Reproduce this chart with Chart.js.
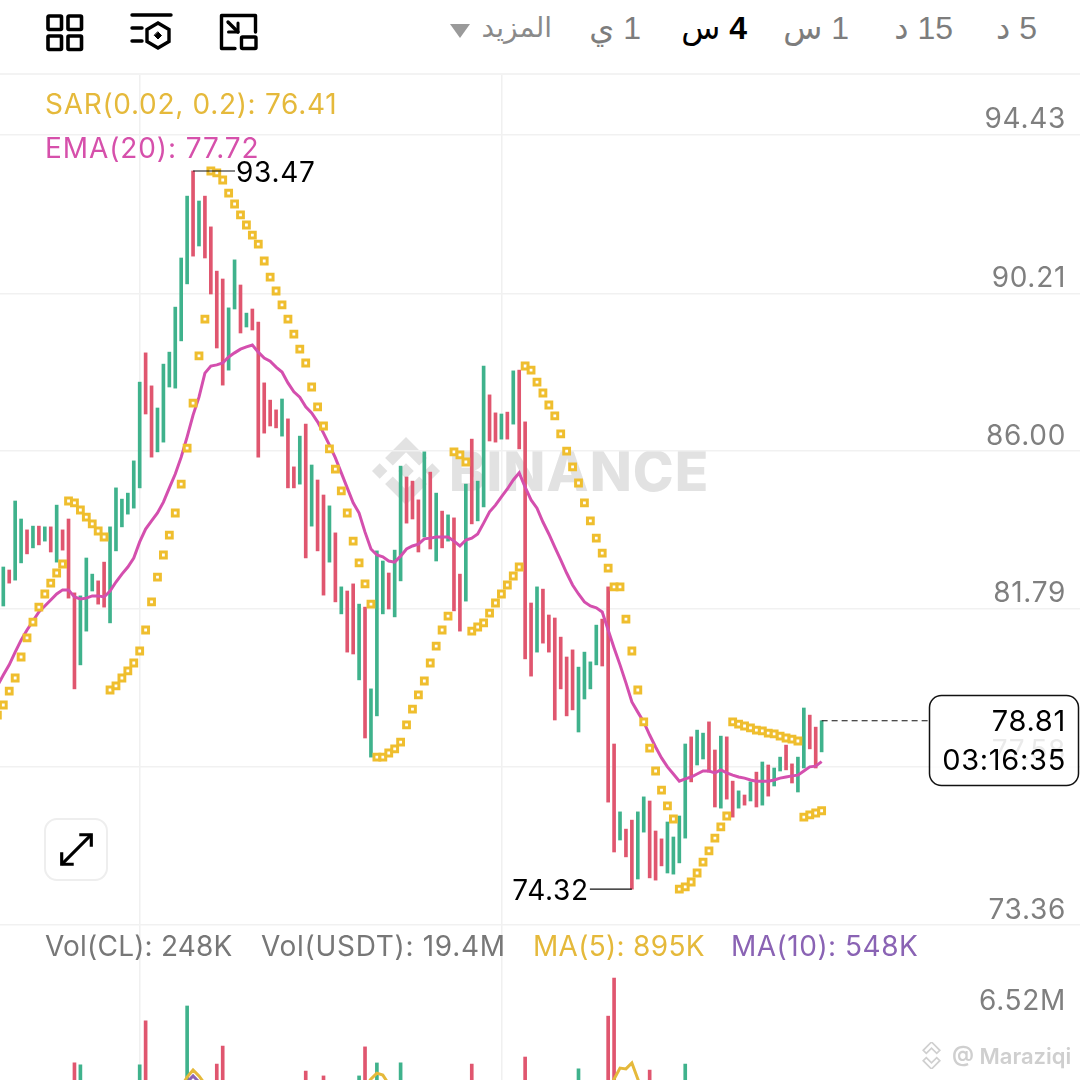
<!DOCTYPE html>
<html lang="ar">
<head>
<meta charset="utf-8">
<title>Chart</title>
<script src="https://cdn.jsdelivr.net/npm/chart.js@4"></script>
<style>
    html, body { margin: 0; padding: 0; background: #fff; }
    #page { position: relative; width: 1080px; height: 1080px; overflow: hidden; background: #fff; font-family: Inter, sans-serif; }
    #chart { position: absolute; left: 0; top: 0; z-index: 2; }
    .header { position: absolute; left: 0; top: 0; width: 1080px; height: 73px; background: #fff; border-bottom: 2px solid #f3f3f3; z-index: 3; }
    .tf { position: absolute; top: 7px; direction: rtl; font-family: "Liberation Sans", "DejaVu Sans", sans-serif; font-size: 32px; line-height: 42px; color: #7d7d7d; white-space: nowrap; }
    .tf b { color: #000; }
    .tf.on { color: #000; }
    .leg { position: absolute; font-size: 28px; letter-spacing: 0.7px; line-height: 32px; white-space: nowrap; z-index: 3; }
    .mark { position: absolute; fill: #e2e2e2; z-index: 1; }
    .wm { position: absolute; left: 449px; top: 438px; font-size: 55px; line-height: 66px; font-weight: 800; color: #e2e2e2; letter-spacing: 1px; z-index: 1; }
    .credit { position: absolute; left: 952px; top: 1042px; font-size: 22px; line-height: 28px; font-weight: 600; color: #cfcfcf; z-index: 3; white-space: nowrap; }
    .expand { position: absolute; left: 44px; top: 818px; width: 60px; height: 59px; border: 2px solid #eeeeee; border-radius: 13px; background: #fff; z-index: 3; }
    svg { position: absolute; }
</style>
</head>
<body>
<div id="page">
    <svg class="mark" style="left:372px;top:437px" width="68" height="68" viewBox="0 0 126.61 126.61">
        <path d="M38.73 53.2l24.59-24.58 24.6 24.6 14.3-14.31L63.32 0 24.43 38.9z"/>
        <path d="M0 63.31l14.3-14.31 14.31 14.31-14.31 14.3z"/>
        <path d="M38.73 73.41l24.59 24.59 24.6-24.6 14.31 14.29-38.9 38.91-38.91-38.88z"/>
        <path d="M98 63.31l14.3-14.31 14.31 14.3-14.31 14.32z"/>
        <path d="M77.83 63.3L63.32 48.78 52.59 59.51l-1.24 1.23-2.54 2.54 14.51 14.5 14.51-14.47z"/>
    </svg>
    <div class="wm">BINANCE</div>

    <canvas id="chart" width="1080" height="1080"></canvas>

    <div class="header">
        <svg style="left:46px;top:14px" width="38" height="38" viewBox="0 0 38 38" fill="none" stroke="#000" stroke-width="3.6">
            <rect x="2" y="2" width="13.5" height="13.5" rx="1"/><rect x="22" y="2" width="13.5" height="13.5" rx="1"/>
            <rect x="2" y="22" width="13.5" height="13.5" rx="1"/><rect x="22" y="22" width="13.5" height="13.5" rx="1"/>
        </svg>
        <svg style="left:130px;top:13px" width="44" height="38" viewBox="0 0 44 38" fill="none" stroke="#000" stroke-width="3.4" stroke-linecap="round">
            <path d="M2 2H41"/><path d="M2 15H12"/><path d="M2 28H12"/>
            <path d="M28 10L39 16.5V28.5L28 35L17 28.5V16.5Z"/>
            <path d="M28 19L31.5 22.5L28 26L24.5 22.5Z" fill="#000" stroke-width="1"/>
        </svg>
        <svg style="left:219px;top:13px" width="40" height="38" viewBox="0 0 40 38" fill="none" stroke="#000" stroke-width="3.4" stroke-linecap="round" stroke-linejoin="round">
            <path d="M16 35.5H2.5V2.5H36.5V19"/>
            <rect x="22.5" y="24" width="14.5" height="11.5" rx="1"/>
            <path d="M9 9L19 19"/><path d="M9.5 19H19V10" stroke-width="3"/>
        </svg>
        <svg style="left:450px;top:24px" width="20" height="14" viewBox="0 0 20 14"><path d="M0 0H20L10 14Z" fill="#9a9a9a"/></svg>
        <div class="tf" style="right:528px;font-size:28px;color:#8a8a8a">المزيد</div>
        <div class="tf" style="right:439px">1 ي</div>
        <div class="tf on" style="right:333px"><b>4</b> س</div>
        <div class="tf" style="right:231px">1 س</div>
        <div class="tf" style="right:127px">15 د</div>
        <div class="tf" style="right:43px">5 د</div>
    </div>

    <div class="leg" style="left:45px;top:88px;color:#e5b93b">SAR(0.02, 0.2): 76.41</div>
    <div class="leg" style="left:45px;top:132px;color:#d650ab;letter-spacing:0.9px">EMA(20): 77.72</div>
    <div class="leg" style="left:45px;top:930px;color:#777;letter-spacing:0.2px">Vol(CL): 248K</div>
    <div class="leg" style="left:261px;top:930px;color:#777">Vol(USDT): 19.4M</div>
    <div class="leg" style="left:533px;top:930px;color:#e5b93b;letter-spacing:0.3px">MA(5): 895K</div>
    <div class="leg" style="left:731px;top:930px;color:#8a63b4;letter-spacing:0.5px">MA(10): 548K</div>

    <div class="expand">
        <svg style="left:12px;top:11px" width="37" height="37" viewBox="0 0 40 40" fill="none" stroke="#000" stroke-width="3.4">
            <path d="M4 36L36 4"/><path d="M4 23V36H17"/><path d="M23 4H36V17"/>
        </svg>
    </div>

    <svg class="mark" style="left:918px;top:1042px;fill:none;stroke:#d0d0d0;stroke-width:8;z-index:3" width="27" height="27" viewBox="0 0 126.61 126.61">
        <path d="M38.73 53.2l24.59-24.58 24.6 24.6 14.3-14.31L63.32 0 24.43 38.9z"/>
        <path d="M38.73 73.41l24.59 24.59 24.6-24.6 14.31 14.29-38.9 38.91-38.91-38.88z"/>
    </svg>
    <div class="credit">@ Maraziqi</div>
</div>

<script>
const priceTicks = [94.43, 90.21, 86.00, 81.79, 77.58, 73.36];
const volumeTicks = [6.52];
const gridCandles = [23.05, 84.1];

const highs = [
    82.91, 82.83, 84.67, 84.19, 83.90, 84.00, 84.00, 83.98, 83.98, 84.56,
    83.90, 84.19, 82.22, 82.14, 83.15, 82.72, 82.54, 83.04, 83.98, 85.02,
    84.72, 84.88, 85.74, 87.84, 88.62, 87.74, 87.15, 88.32, 88.64, 89.84,
    91.15, 92.80, 93.47, 92.67, 92.80, 91.98, 90.80, 90.59, 89.82, 91.10,
    90.43, 89.68, 89.79, 89.44, 87.82, 87.36, 87.10, 87.39, 86.86, 85.58,
    86.40, 86.72, 85.63, 85.23, 84.83, 84.54, 83.82, 82.38, 82.27, 82.46,
    81.92, 81.84, 79.66, 83.34, 83.07, 82.75, 83.36, 85.60, 85.31, 85.20,
    84.70, 85.98, 85.44, 84.88, 84.40, 84.30, 84.22, 82.72, 85.12, 86.32,
    85.20, 88.27, 87.50, 87.02, 86.99, 87.04, 88.14, 88.16, 86.78, 81.95,
    82.38, 82.32, 81.63, 81.55, 81.04, 80.51, 80.70, 80.24, 80.64, 80.38,
    81.36, 81.52, 82.38, 78.19, 76.38, 75.92, 76.16, 76.38, 76.78, 76.67,
    75.87, 75.66, 76.11, 75.71, 76.27, 78.19, 78.38, 78.56, 78.48, 78.78,
    78.03, 78.40, 78.38, 77.20, 76.94, 76.83, 77.18, 77.44, 77.71, 77.63,
    77.55, 77.84, 78.16, 77.66, 77.84, 79.15, 78.96, 78.64, 78.81
];
const lows = [
    81.87, 82.48, 82.56, 83.02, 83.26, 83.42, 83.50, 83.60, 83.31, 83.04,
    83.36, 82.08, 79.66, 80.30, 81.20, 82.27, 81.92, 81.84, 81.42, 83.34,
    83.98, 84.32, 84.48, 85.02, 86.99, 85.84, 85.98, 86.24, 87.71, 87.68,
    88.94, 90.46, 91.20, 91.47, 91.15, 90.19, 88.75, 87.76, 88.16, 89.79,
    89.15, 89.31, 89.23, 85.84, 86.48, 86.67, 86.62, 86.40, 85.02, 85.02,
    85.12, 83.15, 84.00, 83.34, 82.16, 83.04, 81.98, 81.66, 80.64, 80.59,
    79.90, 78.35, 77.84, 78.94, 81.66, 81.79, 81.58, 82.54, 84.08, 84.19,
    83.31, 83.71, 83.39, 83.07, 83.42, 83.60, 81.74, 81.20, 82.00, 84.06,
    84.14, 84.51, 86.27, 86.24, 86.32, 86.32, 86.72, 86.06, 80.46, 80.00,
    80.64, 80.88, 80.64, 78.83, 79.66, 78.94, 79.10, 78.51, 79.39, 79.66,
    80.30, 80.27, 76.64, 75.31, 75.63, 75.18, 74.32, 74.59, 75.84, 74.62,
    74.56, 74.94, 74.75, 74.72, 75.02, 75.68, 77.18, 77.63, 77.79, 77.44,
    76.51, 76.48, 76.72, 76.24, 76.48, 76.56, 76.67, 76.51, 76.56, 76.80,
    77.07, 77.47, 77.50, 77.15, 76.91, 77.55, 78.06, 77.55, 77.98
];
// 1 = green candle, 0 = red candle
const rising = [
    1, 0, 1, 1, 0, 1, 0, 1, 0, 1,
    0, 0, 0, 1, 1, 1, 0, 0, 1, 1,
    1, 1, 1, 1, 0, 0, 1, 1, 1, 1,
    1, 1, 0, 1, 0, 0, 0, 0, 1, 1,
    0, 1, 0, 0, 0, 0, 0, 1, 0, 0,
    1, 0, 1, 0, 0, 1, 0, 1, 0, 0,
    1, 0, 1, 1, 1, 0, 1, 1, 0, 0,
    0, 1, 0, 1, 0, 1, 0, 0, 1, 0,
    1, 1, 0, 0, 1, 0, 1, 0, 0, 0,
    1, 0, 0, 0, 0, 0, 0, 1, 1, 1,
    1, 0, 0, 0, 1, 0, 0, 1, 1, 0,
    0, 0, 1, 1, 1, 1, 0, 1, 1, 0,
    0, 1, 0, 0, 1, 0, 1, 0, 1, 0,
    1, 1, 0, 0, 1, 1, 0, 0, 1
];
// first value of each list belongs to the candle just left of the picture
const sarValues = [
    78.96, 79.23, 79.60, 79.95, 80.51, 81.02, 81.44, 81.84, 82.19, 82.48,
    82.75, 82.99, 84.67, 84.62, 84.43, 84.24, 84.06, 83.87, 83.71, 79.63,
    79.74, 79.95, 80.14, 80.35, 80.67, 81.23, 81.98, 82.64, 83.23, 83.76,
    84.35, 85.12, 86.08, 87.28, 88.54, 89.52, 93.47, 93.42, 93.23, 92.88,
    92.59, 92.30, 92.03, 91.76, 91.52, 91.07, 90.64, 90.27, 89.90, 89.52,
    89.12, 88.72, 88.35, 87.71, 87.18, 86.67, 86.06, 85.52, 84.94, 84.35,
    83.60, 83.02, 82.46, 81.92, 77.84, 77.84, 77.95, 78.06, 78.24, 78.70,
    79.12, 79.50, 79.87, 80.35, 80.80, 81.23, 81.60, 85.98, 85.90, 85.71,
    81.20, 81.31, 81.42, 81.68, 81.95, 82.19, 82.43, 82.67, 82.91, 88.27,
    88.16, 87.84, 87.55, 87.23, 86.94, 86.46, 86.00, 85.58, 85.15, 84.62,
    84.14, 83.68, 83.28, 82.88, 82.38, 82.38, 81.52, 80.67, 79.63, 78.78,
    78.08, 77.47, 76.96, 76.54, 76.19, 74.32, 74.38, 74.51, 74.75, 75.04,
    75.34, 75.68, 75.98, 76.27, 78.78, 78.72, 78.67, 78.62, 78.56, 78.54,
    78.48, 78.46, 78.40, 78.35, 78.32, 78.27, 76.24, 76.30, 76.35, 76.41
];
const emaValues = [
    79.74, 80.03, 80.30, 80.64, 80.96, 81.23, 81.47, 81.71, 81.87, 82.03,
    82.19, 82.30, 82.30, 82.11, 82.06, 82.08, 82.14, 82.14, 82.11, 82.27,
    82.51, 82.72, 82.91, 83.15, 83.58, 83.92, 84.14, 84.35, 84.64, 85.02,
    85.39, 85.84, 86.38, 86.96, 87.44, 88.08, 88.27, 88.30, 88.35, 88.51,
    88.62, 88.72, 88.78, 88.83, 88.64, 88.48, 88.40, 88.24, 88.11, 87.82,
    87.58, 87.44, 87.18, 87.02, 86.78, 86.48, 86.16, 85.82, 85.42, 85.02,
    84.62, 84.35, 83.84, 83.39, 83.23, 83.18, 83.07, 83.04, 83.20, 83.39,
    83.47, 83.52, 83.66, 83.68, 83.71, 83.71, 83.71, 83.60, 83.47, 83.63,
    83.68, 83.79, 84.08, 84.38, 84.56, 84.78, 84.99, 85.23, 85.42, 85.04,
    84.70, 84.48, 84.11, 83.79, 83.44, 83.10, 82.75, 82.43, 82.19, 81.98,
    81.87, 81.82, 81.71, 81.23, 80.75, 80.30, 79.82, 79.31, 79.04, 78.78,
    78.43, 78.11, 77.82, 77.58, 77.39, 77.20, 77.26, 77.31, 77.39, 77.47,
    77.47, 77.42, 77.50, 77.42, 77.36, 77.31, 77.28, 77.23, 77.20, 77.20,
    77.20, 77.23, 77.28, 77.31, 77.34, 77.36, 77.47, 77.58, 77.60, 77.72
];

// volume panel is cut by the picture: only the bars that show are listed
const volumeCandles = [12, 13, 23, 24, 31, 36, 37, 51, 54, 60, 61, 63, 67, 79, 88, 97, 102, 103, 109, 115];
const volumeValues = [4.86, 4.79, 4.79, 6.35, 6.88, 4.82, 5.46, 4.57, 4.40, 4.40, 5.43, 4.86, 4.86, 4.82, 5.07, 4.65, 6.52, 7.87, 4.61, 4.82];
const ma5Candles = [30, 31, 32, 33, 34, null, 61, 62, 63, 64, 65, null, 102, 103, 104, 105, 106, 107, 108];
const ma5Values = [4.01, 4.36, 4.61, 4.40, 4.11, null, 4.01, 4.29, 4.50, 4.43, 4.11, null, 3.72, 4.29, 4.68, 4.65, 4.86, 4.29, 3.72];
const ma10Candles = [31, 32, 33];
const ma10Values = [4.18, 4.40, 4.18];

const highPrice = 93.47;
const highCandle = 32;
const lowPrice = 74.32;
const lowCandle = 106;
const lastPrice = 78.81;
const lastCandle = 138;
const countdown = '03:16:35';

const GREEN = '#3fb28c';
const RED = '#e0566f';
const TEXT_FONT = 'Inter, sans-serif';

const candleData = highs.map((h, i) => ({ x: i, y: [lows[i], h] }));
const candleColors = rising.map(r => r ? GREEN : RED);
const sarData = sarValues.map((v, i) => ({ x: i - 1, y: v }));
const emaData = emaValues.map((v, i) => ({ x: i - 1, y: v }));
const volumeData = volumeCandles.map((c, i) => ({ x: c, y: volumeValues[i] }));
const volumeColors = volumeCandles.map(c => rising[c] ? GREEN : RED);
const ma5Data = ma5Candles.map((c, i) => ({ x: c === null ? ma5Candles[i - 1] + 0.5 : c, y: ma5Values[i] }));
const ma10Data = ma10Candles.map((c, i) => ({ x: c, y: ma10Values[i] }));

// the plot fills the whole canvas, tick labels sit inside it
function flatAxis(scale) {
    scale.paddingLeft = 0;
    scale.paddingRight = 0;
    scale.paddingTop = 0;
    scale.paddingBottom = 0;
    if (scale.isHorizontal()) {
        scale.height = 0;
    } else {
        scale.width = 0;
    }
}

// high, low and last price notes, drawn over the marks
const notesPlugin = {
    id: 'notes',
    beforeDraw(chart) {
        chart.ctx.letterSpacing = '0.7px';
    },
    afterDatasetsDraw(chart) {
        const { ctx, scales: { x, y } } = chart;
        ctx.save();
        ctx.font = '28px ' + TEXT_FONT;
        ctx.textBaseline = 'middle';
        ctx.strokeStyle = '#111';
        ctx.fillStyle = '#000';
        ctx.lineWidth = 1.2;

        const hx = x.getPixelForValue(highCandle);
        const hy = y.getPixelForValue(highPrice);
        ctx.beginPath();
        ctx.moveTo(hx, hy);
        ctx.lineTo(hx + 42, hy);
        ctx.stroke();
        ctx.textAlign = 'left';
        ctx.fillText(highPrice.toFixed(2), hx + 43, hy + 3);

        const lx = x.getPixelForValue(lowCandle);
        const ly = y.getPixelForValue(lowPrice);
        ctx.beginPath();
        ctx.moveTo(lx, ly);
        ctx.lineTo(lx - 42, ly);
        ctx.stroke();
        ctx.textAlign = 'right';
        ctx.fillText(lowPrice.toFixed(2), lx - 43, ly + 2);

        const px = x.getPixelForValue(lastCandle);
        const py = y.getPixelForValue(lastPrice);
        ctx.setLineDash([6, 4]);
        ctx.beginPath();
        ctx.moveTo(px, py);
        ctx.lineTo(929, py);
        ctx.stroke();
        ctx.setLineDash([]);

        ctx.beginPath();
        ctx.roundRect(929.5, 695.5, 149, 90, 12);
        ctx.fillStyle = 'rgba(255, 255, 255, 0.84)';
        ctx.fill();
        ctx.lineWidth = 1.5;
        ctx.stroke();

        ctx.font = '29px ' + TEXT_FONT;
        ctx.fillStyle = '#000';
        ctx.textAlign = 'right';
        ctx.fillText(lastPrice.toFixed(2), 1066, py + 2);
        ctx.fillText(countdown, 1066, py + 41);
        ctx.restore();
    }
};

new Chart(document.getElementById('chart'), {
    type: 'bar',
    plugins: [notesPlugin],
    data: {
        datasets: [
            {
                type: 'line',
                label: 'SAR',
                data: sarData,
                yAxisID: 'y',
                order: 1,
                showLine: false,
                pointStyle: 'rect',
                pointRadius: 4.1,
                pointBorderWidth: 3,
                pointBorderColor: '#efbe2e',
                pointBackgroundColor: '#fff'
            },
            {
                type: 'line',
                label: 'EMA(20)',
                data: emaData,
                yAxisID: 'y',
                order: 2,
                borderColor: '#d44fae',
                borderWidth: 3,
                pointRadius: 0,
                tension: 0
            },
            {
                label: 'Candles',
                data: candleData,
                yAxisID: 'y',
                order: 3,
                grouped: false,
                barThickness: 3,
                backgroundColor: candleColors
            },
            {
                type: 'line',
                label: 'MA(5)',
                data: ma5Data,
                yAxisID: 'yVol',
                order: 1,
                borderColor: '#e5b93b',
                borderWidth: 3,
                pointRadius: 0,
                spanGaps: false
            },
            {
                type: 'line',
                label: 'MA(10)',
                data: ma10Data,
                yAxisID: 'yVol',
                order: 2,
                borderColor: '#8a63b4',
                borderWidth: 3,
                pointRadius: 0
            },
            {
                label: 'Volume',
                data: volumeData,
                yAxisID: 'yVol',
                order: 3,
                grouped: false,
                barThickness: 3,
                backgroundColor: volumeColors
            }
        ]
    },
    options: {
        responsive: false,
        animation: false,
        layout: { padding: 0, autoPadding: false },
        plugins: {
            legend: { display: false },
            tooltip: { enabled: false }
        },
        scales: {
            x: {
                type: 'linear',
                offset: false,
                min: -0.5565,
                max: 181.57,
                border: { display: false },
                grid: { offset: false, color: '#f0f0f0', lineWidth: 1.5, drawTicks: false },
                ticks: { display: false },
                afterBuildTicks(scale) {
                    scale.ticks = gridCandles.map(v => ({ value: v }));
                },
                afterFit: flatAxis
            },
            y: {
                position: 'right',
                min: 69.23,
                max: 98.03,
                border: { display: false },
                grid: { color: '#f1f1f1', lineWidth: 1.5, drawTicks: false },
                ticks: {
                    mirror: true,
                    padding: -14,
                    labelOffset: -15,
                    autoSkip: false,
                    color: '#7f7f7f',
                    font: { family: TEXT_FONT, size: 28 },
                    callback: v => v.toFixed(2)
                },
                afterBuildTicks(scale) {
                    scale.ticks = priceTicks.map(v => ({ value: v }));
                },
                afterFit: flatAxis
            },
            yVol: {
                position: 'right',
                min: 4.2553,
                max: 42.553,
                border: { display: false },
                grid: { display: false, drawTicks: false },
                ticks: {
                    mirror: true,
                    padding: -14,
                    labelOffset: -15,
                    autoSkip: false,
                    color: '#7f7f7f',
                    font: { family: TEXT_FONT, size: 28 },
                    callback: v => v.toFixed(2) + 'M'
                },
                afterBuildTicks(scale) {
                    scale.ticks = volumeTicks.map(v => ({ value: v }));
                },
                afterFit: flatAxis
            }
        }
    }
});
</script>
</body>
</html>
